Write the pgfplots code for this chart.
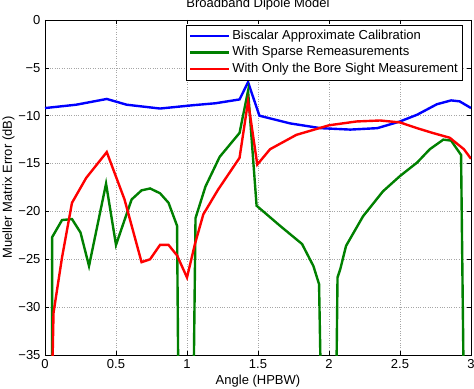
\documentclass[border=0pt]{standalone}
\usepackage{fontspec}
\setmainfont{Liberation Sans}
\usepackage{pgfplots}
\pgfplotsset{compat=1.18}
\definecolor{mblue}{rgb}{0,0,1}
\definecolor{mgreen}{rgb}{0,0.5,0}
\definecolor{mred}{rgb}{1,0,0}
\begin{document}
\fontsize{13bp}{15bp}\selectfont
\begin{tikzpicture}
\useasboundingbox (-45bp,-34bp) rectangle (429bp,355bp);
\begin{axis}[
  scale only axis,
  width=426bp, height=335bp,
  xmin=0, xmax=3, ymin=-35, ymax=0,
  xtick={0,0.5,1,1.5,2,2.5,3},
  xticklabels={0,0.5,1,1.5,2,2.5,3},
  ytick={-35,-30,-25,-20,-15,-10,-5,0},
  yticklabels={−35,−30,−25,−20,−15,−10,−5,0},
  tick pos=both, tick align=inside,
  major tick length=4bp,
  tick style={black, line width=0.6bp},
  axis line style={black, line width=0.8bp},
  grid=major,
  major grid style={gray!70, dotted, line width=0.6bp},
  ticklabel style={font=\fontsize{13bp}{15bp}\selectfont},
  label style={font=\fontsize{13bp}{15bp}\selectfont},
  title style={font=\fontsize{13bp}{15bp}\selectfont, inner sep=0pt, at={(axis description cs:0.5,1.0194)}, anchor=base},
  title={Broadband Dipole Model},
  xlabel={Angle (HPBW)},
  ylabel={Mueller Matrix Error (dB)},
  xlabel style={at={(axis description cs:0.5,-0.0866)}, anchor=base},
  ylabel style={at={(axis description cs:-0.0775,0.5)}, anchor=base},
  clip=true,
  legend cell align=left,
  legend style={at={(axis description cs:0.981,0.985)}, anchor=north east,
    draw=black, line width=0.8bp, fill=white,
    font=\fontsize{13bp}{15bp}\selectfont,
    inner xsep=3bp, inner ysep=2.5bp,
    nodes={inner sep=1.75bp, text depth=0.25em, text height=0.75em}},
  legend image code/.code={\draw[#1] (0bp,0bp) -- (39bp,0bp);},
]
\addplot[mblue, line width=2.4bp] coordinates {
(0,-9.2) (0.22,-8.85) (0.435,-8.25) (0.575,-8.85) (0.81,-9.25) (1.045,-8.9)
(1.2,-8.7) (1.37,-8.3) (1.43,-6.5) (1.51,-10.0) (1.725,-10.8) (1.94,-11.3)
(2.15,-11.45) (2.34,-11.3) (2.5,-10.6) (2.62,-9.9) (2.76,-8.8) (2.86,-8.4)
(2.92,-8.5) (3.0,-9.2)
};
\addlegendentry{Biscalar Approximate Calibration}
\addplot[mgreen, line width=2.4bp] coordinates {
(0.05,-40) (0.05,-22.7) (0.12,-20.9) (0.19,-20.8) (0.25,-22.2) (0.31,-25.7)
(0.43,-17.1) (0.50,-23.5) (0.61,-18.75) (0.68,-17.8) (0.74,-17.6) (0.81,-18.1)
(0.87,-19.1) (0.93,-21.5) (0.94,-40) (1.045,-40) (1.06,-20.7) (1.13,-17.4)
(1.23,-14.3) (1.37,-11.8) (1.43,-7.4) (1.49,-19.4) (1.655,-21.5) (1.81,-23.4)
(1.89,-25.7) (1.93,-27.6) (1.945,-40) (2.05,-40) (2.06,-26.9) (2.08,-26)
(2.12,-23.6) (2.24,-20.5) (2.38,-17.9) (2.5,-16.3) (2.62,-14.9) (2.71,-13.5)
(2.805,-12.5) (2.86,-12.6) (2.93,-14.1) (2.95,-40)
};
\addlegendentry{With Sparse Remeasurements}
\addplot[mred, line width=2.4bp] coordinates {
(0.047,-40) (0.06,-30.6) (0.12,-24.8) (0.19,-19.1) (0.29,-16.5) (0.435,-13.8)
(0.56,-18.75) (0.68,-25.3) (0.74,-25.0) (0.81,-23.5) (0.87,-23.5) (0.93,-24.6)
(1.0,-26.9) (1.056,-23.4) (1.115,-20.3) (1.22,-17.7) (1.37,-14.4) (1.43,-8.5)
(1.495,-15.1) (1.585,-13.5) (1.77,-12.0) (2.0,-11.0) (2.195,-10.6) (2.36,-10.5)
(2.5,-10.7) (2.62,-11.3) (2.73,-11.8) (2.85,-12.3) (2.95,-13.5) (3.0,-14.5)
};
\addlegendentry{With Only the Bore Sight Measurement}
\end{axis}
\end{tikzpicture}
\end{document}
